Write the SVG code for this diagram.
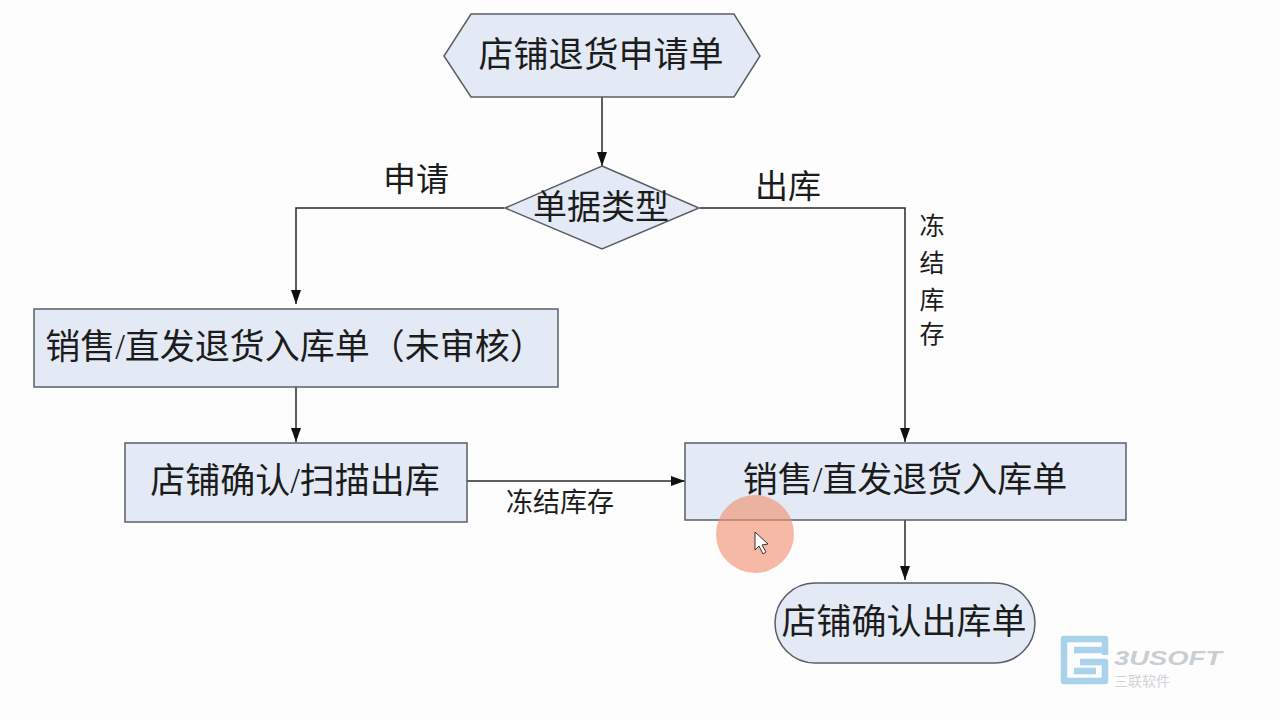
<svg xmlns="http://www.w3.org/2000/svg" width="1280" height="720" viewBox="0 0 1280 720">
<style>
.n{fill:#e3eaf5;stroke:#5a5f66;stroke-width:1.5}
.t{font-family:"Liberation Serif","Noto Sans CJK SC",sans-serif;fill:#1c1c1c;text-anchor:middle;font-weight:400}
.c{fill:none;stroke:#2a2a2a;stroke-width:1.5}
.wm{fill:none;stroke:#a9d3ea;stroke-width:6.5;stroke-linejoin:round}
</style>
<defs><marker id="a" markerWidth="15" markerHeight="11" refX="14" refY="5" orient="auto" markerUnits="userSpaceOnUse" viewBox="0 0 15 11"><path d="M0 0L14 5L0 10z" fill="#111"/></marker></defs>
<rect width="1280" height="720" fill="#fdfdfd"/>
<g id="connectors">
<path class="c" marker-end="url(#a)" d="M602 97V166"/>
<path class="c" marker-end="url(#a)" d="M504 208H296V304"/>
<path class="c" marker-end="url(#a)" d="M700 208H905V442"/>
<path class="c" marker-end="url(#a)" d="M296 387V442"/>
<path class="c" marker-end="url(#a)" d="M467 481H685"/>
<path class="c" marker-end="url(#a)" d="M905 520V580"/>
</g>
<g id="n1"><polygon class="n" points="471,14 734,14 760,56 734,97 471,97 444,56"/><text class="t" x="601" y="67" font-size="35">店铺退货申请单</text></g>
<g id="n2"><polygon class="n" points="602,166 699,208 602,249 505,208"/><text class="t" x="601" y="219" font-size="34">单据类型</text></g>
<g id="n3"><rect class="n" x="34" y="309" width="524" height="78"/><text class="t" x="295" y="359" font-size="35">销售/直发退货入库单（未审核）</text></g>
<g id="n4"><rect class="n" x="125" y="443" width="342" height="79"/><text class="t" x="295" y="493" font-size="35">店铺确认/扫描出库</text></g>
<g id="n5"><rect class="n" x="685" y="443" width="441" height="77"/><text class="t" x="905" y="492" font-size="35">销售/直发退货入库单</text></g>
<g id="n6"><rect class="n" x="775" y="583" width="260" height="80" rx="40" ry="40"/><text class="t" x="904" y="634" font-size="35">店铺确认出库单</text></g>
<g id="labels">
<text class="t" x="416" y="191" font-size="33">申请</text>
<text class="t" x="788" y="198" font-size="33">出库</text>
<text class="t" x="932" y="235" font-size="25">冻</text>
<text class="t" x="932" y="272" font-size="25">结</text>
<text class="t" x="932" y="309" font-size="25">库</text>
<text class="t" x="932" y="343" font-size="25">存</text>
<text class="t" x="560" y="512" font-size="27">冻结库存</text>
</g>
<circle cx="755" cy="534" r="39" fill="#f08f70" fill-opacity="0.62"/>
<path d="M755 532V550L759 546L763 554L766 552L762 545L768 544Z" fill="#fff" stroke="#333" stroke-width="1"/>
<path class="wm" d="M1105 655V639H1064V681H1105V662H1080"/>
<path class="wm" d="M1074 650H1105M1074 671H1096" stroke-width="5"/>
<text x="1114" y="665" font-family="Liberation Sans,sans-serif" font-size="20" font-style="italic" font-weight="700" fill="#c9ced3" textLength="108" lengthAdjust="spacingAndGlyphs">3USOFT</text>
<text x="1114" y="686" font-family="Noto Sans CJK SC,sans-serif" font-size="14" fill="#d0d3d6">三联软件</text>
</svg>
